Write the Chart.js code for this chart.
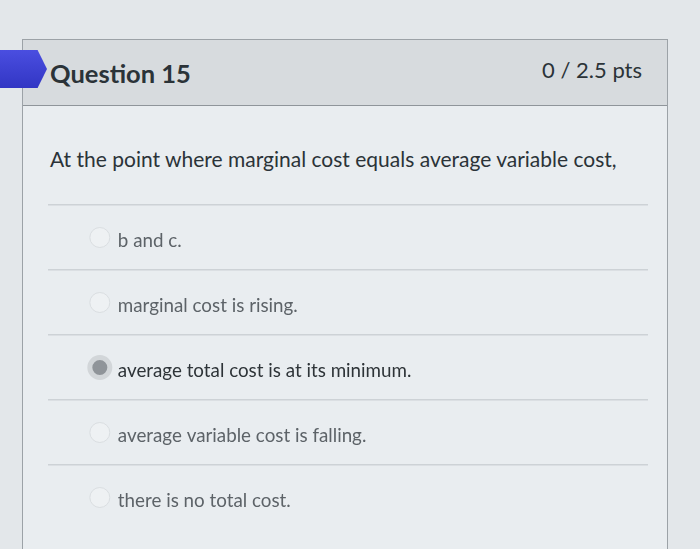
<!DOCTYPE html>
<html>
<head>
<meta charset="utf-8">
<script src="https://cdn.jsdelivr.net/npm/chart.js@4/dist/chart.umd.min.js"></script>
<style>
    html, body {
        margin: 0;
        padding: 0;
        width: 700px;
        height: 549px;
        overflow: hidden;
        background: #e3e7ea;
        font-family: Lato, 'Open Sans', sans-serif;
    }
    .card {
        position: absolute;
        left: 22px;
        top: 39px;
        width: 644px;
        height: 540px;
        border: 1px solid #9ca2a7;
        background: #e9edf0;
    }
    .card header {
        position: absolute;
        left: 0;
        top: 0;
        width: 100%;
        height: 65px;
        background: #d7dbde;
        border-bottom: 1px solid #8f959a;
    }
    .tab {
        position: absolute;
        left: 0;
        top: 50px;
        width: 47px;
        height: 38px;
        background: linear-gradient(#4a4ee0, #3236c4);
        clip-path: polygon(0 0, 80% 0, 100% 50%, 80% 100%, 0 100%);
    }
    .title {
        position: absolute;
        left: 50px;
        top: 61px;
        font-size: 25.5px;
        line-height: 1;
        font-weight: bold;
        color: #2b3338;
    }
    .pts {
        position: absolute;
        right: 58px;
        top: 59px;
        font-size: 22px;
        line-height: 1;
        color: #2b3338;
    }
    .question {
        position: absolute;
        left: 50px;
        top: 148px;
        font-size: 21px;
        line-height: 1;
        color: #2b3338;
    }
    #answers {
        position: absolute;
        left: 48px;
        top: 204px;
        width: 600px;
        height: 326px;
    }
</style>
</head>
<body>
<div class="card"><header></header></div>
<div class="tab"></div>
<div class="title">Question 15</div>
<div class="pts">0 / 2.5 pts</div>
<div class="question">At the point where marginal cost equals average variable cost,</div>
<div id="answers"><canvas></canvas></div>

<script>
'use strict';

// варианты ответа и выбранный вариант
const answers = [
    'b and c.',
    'marginal cost is rising.',
    'average total cost is at its minimum.',
    'average variable cost is falling.',
    'there is no total cost.',
];
const selected = [0, 0, 1, 0, 0];

// подписи рядом с кружками
const answerLabels = {
    id: 'answerLabels',
    afterDatasetsDraw(chart) {
        const ctx = chart.ctx;
        const meta = chart.getDatasetMeta(0);
        ctx.save();
        ctx.font = '18.8px Lato, sans-serif';
        ctx.textBaseline = 'middle';
        ctx.textAlign = 'left';
        meta.data.forEach((pt, i) => {
            ctx.fillStyle = selected[i] ? '#2e3438' : '#5d6368';
            ctx.fillText(answers[i], pt.x + 18, pt.y + 3);
        });
        ctx.restore();
    },
};

const ctx = document.querySelector('#answers canvas').getContext('2d');
new Chart(ctx, {
    type: 'scatter',
    data: {
        labels: answers,
        datasets: [
            {
                data: answers.map((a) => ({ x: 0, y: a })),
                pointRadius: 10,
                pointHoverRadius: 10,
                pointBorderWidth: selected.map((s) => (s ? 5 : 1)),
                pointBackgroundColor: selected.map((s) => (s ? '#8f9499' : '#eef1f3')),
                pointBorderColor: selected.map((s) => (s ? '#d2d6d9' : '#d9dde0')),
            },
        ],
    },
    options: {
        responsive: true,
        maintainAspectRatio: false,
        animation: false,
        events: [],
        layout: { padding: { top: 1 }, autoPadding: false },
        plugins: {
            legend: { display: false },
            tooltip: { enabled: false },
        },
        scales: {
            x: {
                type: 'linear',
                display: false,
                min: -1.04,
                max: 11,
            },
            y: {
                type: 'category',
                labels: answers,
                offset: true,
                border: { display: false },
                ticks: { display: false, padding: 0 },
                afterFit: (scale) => {
                    scale.width = 0;
                },
                grid: {
                    offset: true,
                    drawTicks: false,
                    lineWidth: 1.5,
                    // нижнюю линию не рисуем
                    color: (c) => (c.type === 'tick' ? '#cdd2d6' : 'rgba(0,0,0,0)'),
                },
            },
        },
    },
    plugins: [answerLabels],
});
</script>
</body>
</html>
